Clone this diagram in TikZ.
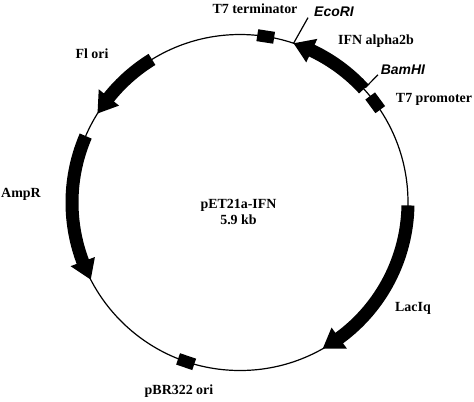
\documentclass[tikz,border=0pt]{standalone}
\usepackage{fontspec}
\setmainfont{Liberation Serif}
\setsansfont{Liberation Sans}
\tikzset{
  lbl/.style={font=\fontsize{14}{16}\selectfont\bfseries, inner sep=0pt},
  site/.style={font=\fontsize{14}{16}\selectfont\sffamily\bfseries\itshape, inner sep=0pt},
  boxmark/.style={fill=black, inner sep=0pt, minimum width=12bp, minimum height=17bp},
}
% thick gene arrow on the ring: tail angle, head angle
\newcommand{\genearrow}[2]{%
  \pgfmathsetmacro{\hb}{#2-6.7*sign(#2-#1)}
  \fill (#1:174.5) arc[start angle=#1, end angle=\hb, radius=174.5]
    -- (\hb:181) -- (#2:168) -- (\hb:155) -- (\hb:161.5)
    arc[start angle=\hb, end angle=#1, radius=161.5] -- cycle;
}
\begin{document}
\begin{tikzpicture}[x=1bp, y=1bp]
  \useasboundingbox (-240,-198.5) rectangle (234,202.5);
  \draw[line width=1.2bp] (0,0) circle[radius=168];

  % genes
  \genearrow{42.5}{71.4}
  \genearrow{121.6}{148}
  \genearrow{156.7}{207.3}
  \genearrow{-1}{-60.5}

  % small elements
  \node[boxmark, rotate=81.2] (t7term) at (81.2:168) {};
  \node[boxmark, rotate=36.4] (t7prom) at (36.4:168) {};
  \node[boxmark, rotate=251.3] (pbr) at (251.3:168) {};

  % sites
  \coordinate (eco1) at (71.4:168);
  \coordinate (eco2) at (69.8:197);
  \coordinate (bam1) at (42.5:170);
  \coordinate (bam2) at (42.8:188);
  \draw[line width=1.2bp] (eco1) -- (eco2);
  \draw[line width=1.2bp] (bam1) -- (bam2);

  % labels
  \node[lbl] (t7termL) at (15,193.5) {T7 terminator};
  \node[site] (ecoL) at (94,190.5) {EcoRI};
  \node[lbl] (ifnL) at (136,161.5) {IFN alpha2b};
  \node[site] (bamL) at (163,132.5) {BamHI};
  \node[lbl] (t7promL) at (194,103.5) {T7 promoter};
  \node[lbl] (floriL) at (-148,148.5) {Fl ori};
  \node[lbl] (ampL) at (-219,8.5) {AmpR};
  \node[lbl] (pbrL) at (-61,-188.5) {pBR322 ori};
  \node[lbl] (lacL) at (173,-105.5) {LacIq};
  \node[lbl, align=center] (name) at (-1.5,-9.5) {pET21a-IFN\\5.9 kb};
\end{tikzpicture}
\end{document}
